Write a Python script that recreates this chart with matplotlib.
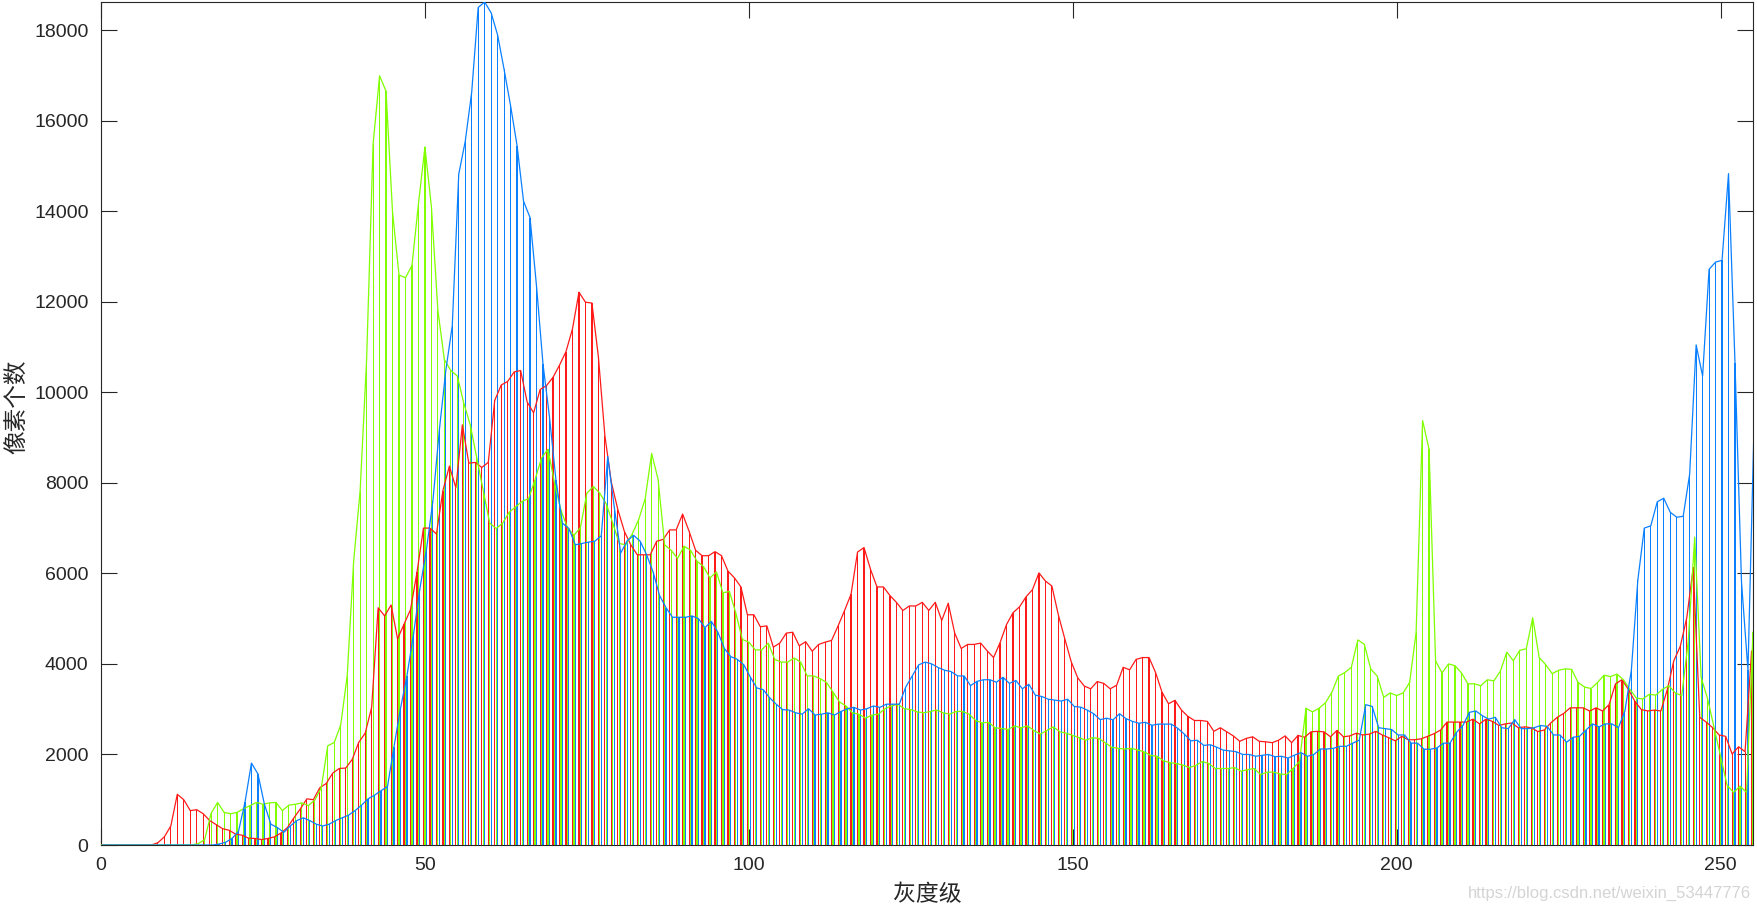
#!/usr/bin/env python3

import matplotlib
matplotlib.use("Agg")
import matplotlib.pyplot as plt
import numpy as np

# gray levels 0..255
levels = np.arange(256)

# pixel counts per gray level (R, G, B channels)
red = [
    0, 0, 0, 0, 0, 0, 0, 0, 0, 50,
    180, 420, 1120, 1000, 760, 780, 690, 540, 450, 360,
    325, 240, 217, 150, 145, 120, 145, 180, 265, 385,
    600, 800, 1020, 1000, 1265, 1360, 1590, 1690, 1700, 1890,
    2265, 2470, 3040, 5240, 5060, 5300, 4555, 4880, 5200, 6025,
    7000, 7000, 6870, 7830, 8370, 7890, 9280, 8435, 8450, 8340,
    8450, 9820, 10160, 10240, 10450, 10480, 9785, 9545, 10060, 10150,
    10330, 10600, 10900, 11400, 12210, 11990, 11970, 10780, 9040, 8010,
    7410, 6930, 6630, 6410, 6410, 6410, 6710, 6750, 6960, 6960,
    7310, 6930, 6510, 6390, 6390, 6480, 6390, 6050, 5900, 5700,
    5085, 5085, 4820, 4840, 4370, 4460, 4680, 4700, 4400, 4490,
    4280, 4430, 4480, 4520, 4840, 5180, 5540, 6470, 6570, 6090,
    5700, 5700, 5510, 5360, 5180, 5280, 5280, 5360, 5180, 5360,
    4960, 5340, 4680, 4340, 4430, 4430, 4460, 4290, 4140, 4470,
    4870, 5130, 5260, 5480, 5640, 6010, 5830, 5720, 5080, 4550,
    4040, 3690, 3510, 3450, 3610, 3570, 3450, 3530, 3925, 3870,
    4100, 4140, 4140, 3810, 3375, 3120, 3195, 2980, 2840, 2750,
    2750, 2730, 2510, 2590, 2500, 2410, 2290, 2355, 2390, 2290,
    2280, 2260, 2315, 2410, 2260, 2420, 2380, 2500, 2510, 2500,
    2390, 2530, 2390, 2410, 2470, 2430, 2450, 2510, 2430, 2370,
    2300, 2400, 2325, 2325, 2345, 2400, 2460, 2540, 2715, 2715,
    2715, 2715, 2780, 2675, 2780, 2730, 2640, 2675, 2695, 2590,
    2610, 2590, 2505, 2540, 2695, 2820, 2905, 3030, 3030, 3030,
    2960, 3030, 2960, 3100, 3560, 3650, 3435, 3170, 2990, 2960,
    2980, 2960, 3435, 4070, 4390, 5020, 6130, 2820, 2715, 2590,
    2430, 2400, 2010, 2170, 2060, 4280,
]

green = [
    0, 0, 0, 0, 0, 0, 0, 0, 0, 0,
    0, 0, 0, 0, 0, 30, 120, 700, 940, 720,
    690, 720, 800, 870, 940, 900, 930, 940, 760, 880,
    900, 930, 870, 990, 1265, 2190, 2265, 2650, 3735, 6265,
    7830, 10720, 15480, 16990, 16650, 13980, 12590, 12530, 12800, 14160,
    15420, 14100, 11810, 10720, 10480, 10360, 9760, 9280, 8550, 7830,
    7110, 6990, 7110, 7350, 7470, 7590, 7650, 8070, 8550, 8740,
    8000, 7390, 7010, 6840, 7010, 7770, 7920, 7770, 7530, 7110,
    6660, 6630, 6870, 7190, 7650, 8650, 8070, 6630, 6510, 6330,
    6600, 6510, 6270, 6150, 5900, 6030, 5570, 5600, 5120, 4540,
    4480, 4310, 4310, 4460, 4100, 4040, 4040, 4130, 4040, 3735,
    3735, 3675, 3590, 3375, 3160, 3070, 2920, 2890, 2800, 2870,
    2890, 3010, 3070, 3110, 3010, 2990, 2940, 2920, 2950, 2980,
    2920, 2890, 2950, 2950, 2890, 2750, 2700, 2710, 2590, 2575,
    2550, 2630, 2590, 2630, 2530, 2450, 2530, 2610, 2500, 2470,
    2420, 2370, 2315, 2370, 2355, 2260, 2160, 2135, 2120, 2135,
    2100, 2060, 1980, 1960, 1860, 1820, 1800, 1765, 1710, 1760,
    1845, 1800, 1690, 1690, 1690, 1710, 1630, 1665, 1690, 1555,
    1610, 1610, 1570, 1555, 1690, 1845, 3020, 2940, 3020, 3140,
    3375, 3730, 3810, 3925, 4530, 4435, 3885, 3730, 3260, 3360,
    3300, 3360, 3590, 4700, 9375, 8740, 4070, 3800, 4000, 3960,
    3800, 3560, 3560, 3520, 3650, 3625, 3840, 4260, 4070, 4300,
    4335, 5020, 4140, 3985, 3785, 3860, 3890, 3880, 3590, 3490,
    3455, 3590, 3750, 3720, 3775, 3650, 3435, 3245, 3225, 3330,
    3310, 3435, 3520, 3360, 3300, 4490, 6800, 3700, 3225, 2590,
    1955, 1320, 1160, 1300, 1160, 4700,
]

blue = [
    0, 0, 0, 0, 0, 0, 0, 0, 0, 0,
    0, 0, 0, 0, 0, 0, 0, 0, 20, 60,
    145, 300, 940, 1810, 1570, 900, 460, 385, 280, 420,
    540, 600, 540, 460, 420, 460, 540, 600, 660, 760,
    880, 1020, 1100, 1200, 1290, 2170, 3010, 3735, 4640, 5660,
    6510, 7590, 9160, 10480, 11470, 14820, 15540, 16630, 18500, 18620,
    18380, 17890, 17130, 16330, 15450, 14220, 13860, 12350, 10630, 9460,
    8070, 7110, 6990, 6630, 6660, 6690, 6710, 6830, 8580, 7470,
    6450, 6720, 6840, 6710, 6410, 6030, 5510, 5240, 5030, 5030,
    5030, 5060, 5000, 4800, 4940, 4700, 4340, 4160, 4100, 3980,
    3710, 3470, 3430, 3250, 3110, 2990, 2980, 2920, 2890, 3010,
    2870, 2890, 2920, 2870, 2950, 3010, 3040, 2980, 3010, 3070,
    3040, 3110, 3110, 3110, 3490, 3735, 3980, 4040, 4000, 3920,
    3860, 3830, 3735, 3735, 3520, 3615, 3650, 3650, 3595, 3705,
    3570, 3635, 3450, 3550, 3310, 3280, 3220, 3200, 3180, 3220,
    3060, 3045, 2980, 2900, 2770, 2800, 2765, 2900, 2790, 2730,
    2690, 2710, 2645, 2670, 2670, 2670, 2575, 2450, 2300, 2315,
    2200, 2215, 2160, 2095, 2080, 2060, 2000, 2000, 1960, 1980,
    2000, 1950, 1960, 1920, 1985, 2040, 1960, 2000, 2120, 2120,
    2135, 2180, 2180, 2250, 2315, 3100, 3060, 2590, 2570, 2550,
    2430, 2430, 2250, 2250, 2115, 2115, 2145, 2250, 2250, 2485,
    2640, 2930, 2960, 2855, 2780, 2820, 2590, 2570, 2770, 2570,
    2570, 2590, 2640, 2620, 2430, 2430, 2270, 2380, 2400, 2540,
    2675, 2610, 2675, 2675, 2590, 2960, 3860, 5850, 7000, 7050,
    7580, 7660, 7350, 7240, 7260, 8190, 11045, 10360, 12715, 12875,
    12915, 14830, 10640, 5815, 3860, 9620,
]

channels = [
    (red, '#ff1a1a', -0.222),
    (green, '#7fff00', 0.0),
    (blue, '#0a80ff', 0.222),
]

plt.rcParams['font.family'] = ['Liberation Sans', 'Noto Sans CJK SC', 'DejaVu Sans']

fig = plt.figure(figsize=(17.57, 9.09), dpi=100)
ax = fig.add_axes([101 / 1757, 1 - 845 / 909, 1652 / 1757, 843 / 909])

# grouped thin bars (one per channel per level)
for vals, color, off in channels:
    ax.bar(levels + off, vals, width=0.18, color=color, linewidth=0, zorder=2)

# outline through the bar tops
for vals, color, off in channels:
    ax.plot(levels + off, vals, color=color, lw=0.9, zorder=3)

ax.set_xlim(0, 255)
ax.set_ylim(0, max(blue))
ax.set_xticks(np.arange(0, 251, 50))
ax.set_yticks(np.arange(0, 18001, 2000))

for side in ax.spines.values():
    side.set_color('#262626')
    side.set_linewidth(0.8)
ax.tick_params(direction='in', top=True, right=True, length=11.5, width=0.8,
               color='#262626', labelsize=14, labelcolor='#262626', pad=9)

ax.set_xlabel('灰度级', fontsize=16.5, family=['Noto Sans CJK SC'], color='#262626')
ax.set_ylabel('像素个数', fontsize=17, family=['Noto Sans CJK SC'], color='#262626')
ax.xaxis.set_label_coords(0.5, -0.059)
ax.xaxis.label.set_va('center')
ax.yaxis.set_label_coords(-0.051, 0.52)
ax.yaxis.label.set_va('center')

fig.text(1751 / 1757, 1 - 893 / 909, 'https://blog.csdn.net/weixin_53447776',
         ha='right', va='center', fontsize=12, color='#d4d4d4')

fig.savefig('out.png', dpi=100)
